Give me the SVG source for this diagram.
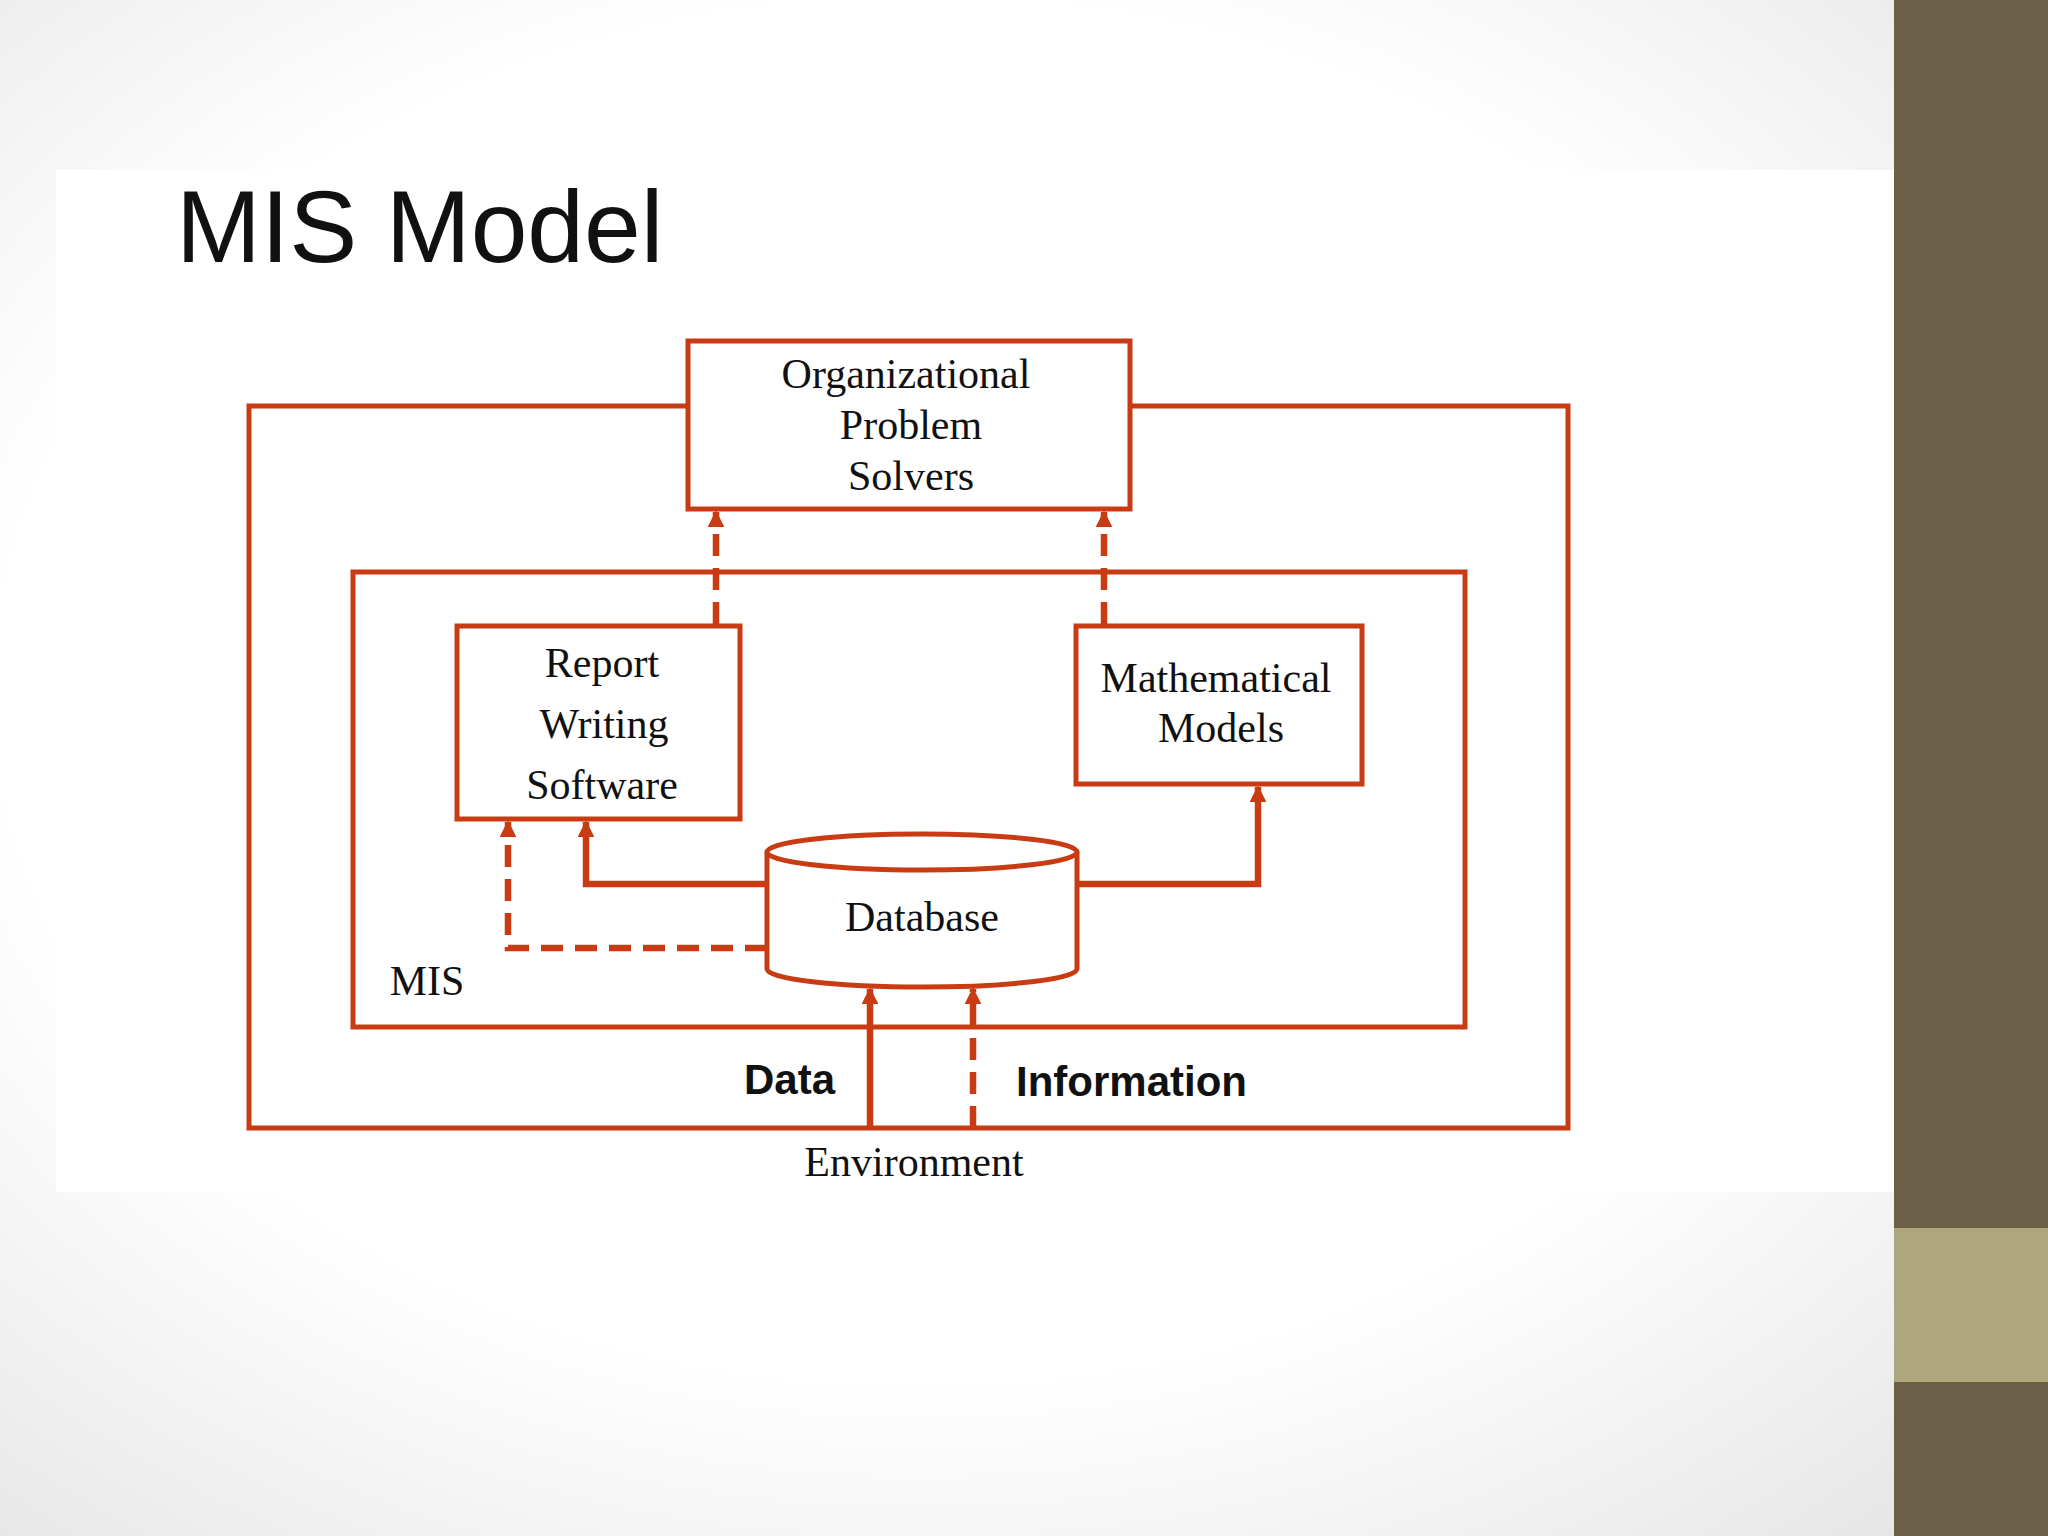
<svg xmlns="http://www.w3.org/2000/svg" width="2048" height="1536" viewBox="0 0 2048 1536">
<defs>
<radialGradient id="bg" cx="0.45" cy="0.45" r="0.75">
<stop offset="0.6" stop-color="#ffffff"/><stop offset="1" stop-color="#e4e4e4"/>
</radialGradient>
<marker id="ah" viewBox="0 0 10 10" refX="9" refY="5" markerWidth="2.6" markerHeight="2.6" orient="auto" markerUnits="strokeWidth"><path d="M0,0 L10,5 L0,10 z" fill="#c93b12"/></marker>
<style>
.b{fill:#fff;stroke:#c93b12;stroke-width:5}
.f{fill:none;stroke:#c93b12;stroke-width:5}
.c{fill:none;stroke:#c93b12;stroke-width:6.5}
.d{stroke-dasharray:22,12}
.t{font-family:"Liberation Serif",serif;font-size:42px;fill:#111;text-anchor:middle}
.s{font-family:"Liberation Sans",Arial,sans-serif;font-weight:bold;font-size:42px;fill:#111}
</style>
</defs>
<rect width="2048" height="1536" fill="url(#bg)"/>
<rect x="56" y="170" width="1838" height="1022" fill="#fff"/>
<rect x="1894" y="0" width="154" height="1536" fill="#6b5f48"/>
<rect x="1894" y="1228" width="154" height="154" fill="#aea67c"/>
<text x="176" y="262" font-family="Liberation Sans,Arial,sans-serif" font-size="102" fill="#111">MIS Model</text>
<g id="environment"><rect class="f" x="249" y="406" width="1319" height="722"/><text class="t" x="914" y="1176">Environment</text></g>
<g id="mis"><rect class="f" x="353" y="572" width="1112" height="455"/><text class="t" x="427" y="995">MIS</text></g>
<g id="org"><rect class="b" x="688" y="341" width="442" height="168"/><text class="t" x="906" y="388">Organizational</text><text class="t" x="911" y="439">Problem</text><text class="t" x="911" y="490">Solvers</text></g>
<g id="report"><rect class="b" x="457" y="626" width="283" height="193"/><text class="t" x="602" y="677">Report</text><text class="t" x="604" y="738">Writing</text><text class="t" x="602" y="799">Software</text></g>
<g id="math"><rect class="b" x="1076" y="626" width="286" height="158"/><text class="t" x="1216" y="692">Mathematical</text><text class="t" x="1221" y="742">Models</text></g>
<g id="database"><path class="b" d="M767,852 L767,969 A155,18 0 0 0 1077,969 L1077,852"/><ellipse class="b" cx="922" cy="852" rx="155" ry="18"/><text class="t" x="922" y="931">Database</text></g>
<g id="connectors">
<path class="c" d="M767,884 H586 V822" marker-end="url(#ah)"/>
<path class="c d" d="M767,948 H508 V822" marker-end="url(#ah)"/>
<path class="c" d="M1077,884 H1258 V787" marker-end="url(#ah)"/>
<path class="c d" d="M716,624 V512" marker-end="url(#ah)"/>
<path class="c d" d="M1104,624 V512" marker-end="url(#ah)"/>
<path class="c" d="M870,1128 V989" marker-end="url(#ah)"/>
<path class="c d" d="M973,1128 V989" marker-end="url(#ah)"/>
</g>
<text class="s" x="744" y="1094">Data</text>
<text class="s" x="1016" y="1096">Information</text>
</svg>
